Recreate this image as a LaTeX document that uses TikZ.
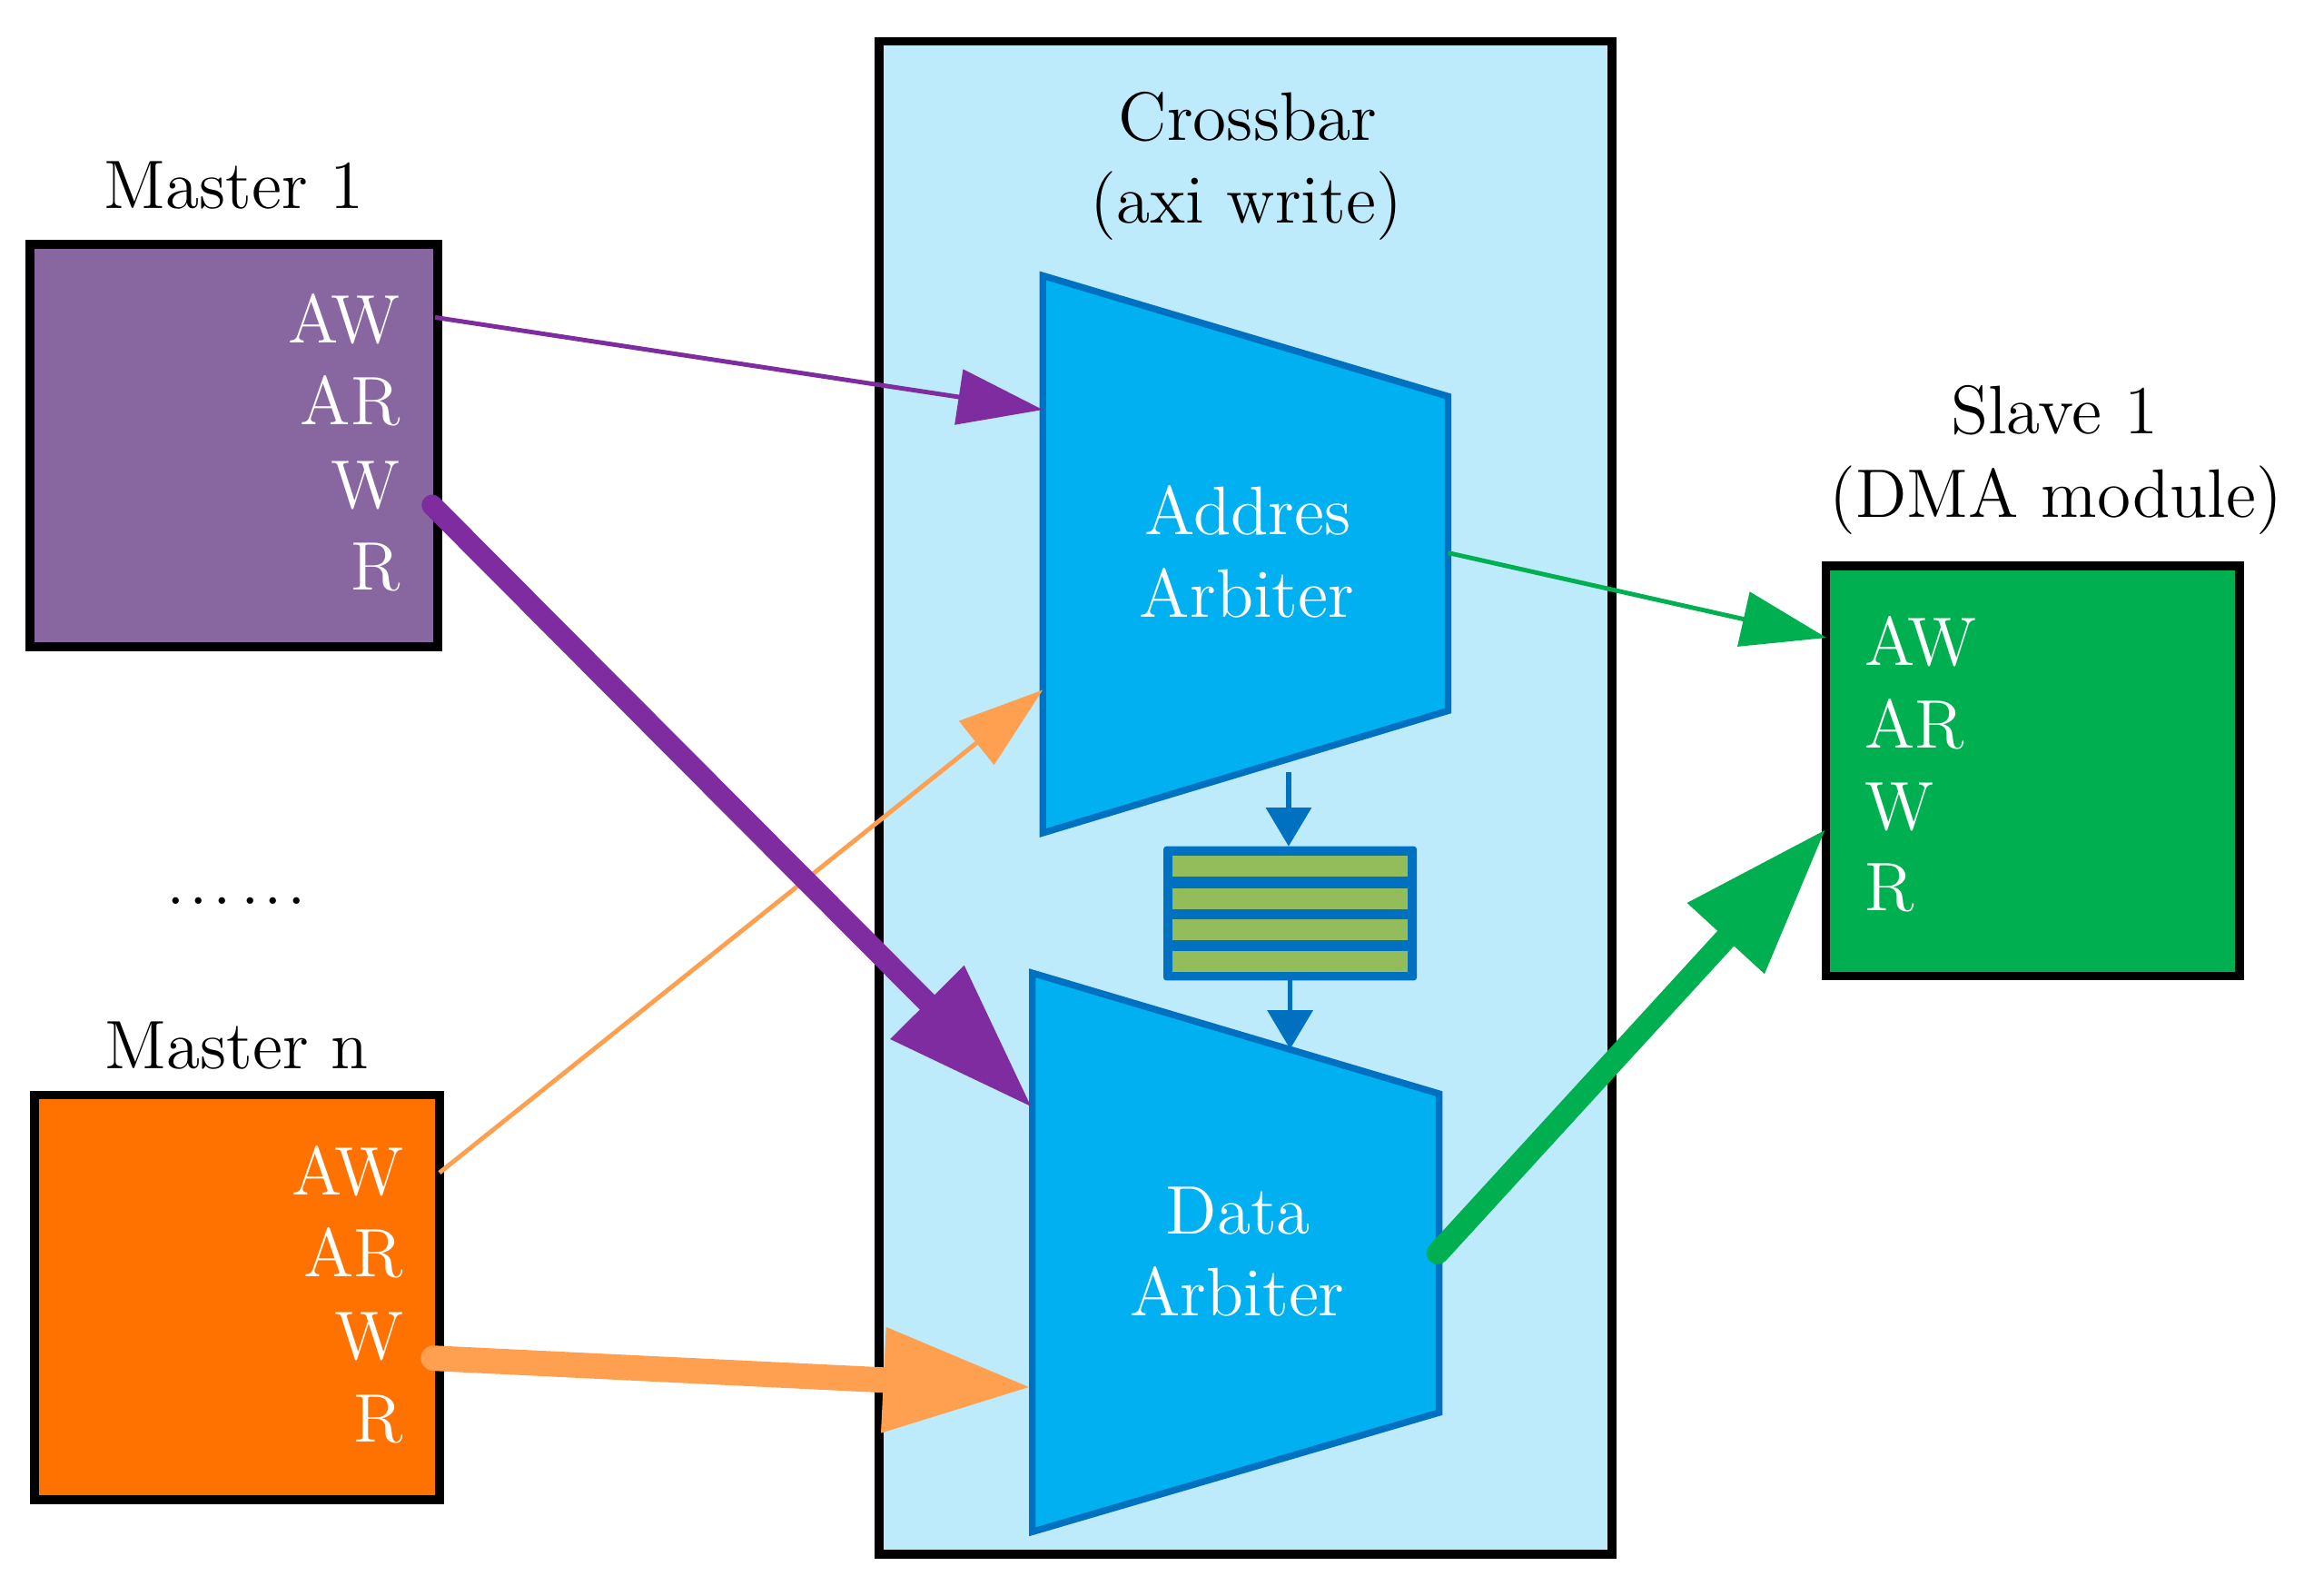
\documentclass[tikz,border=0pt]{standalone}
\usetikzlibrary{arrows.meta}
\definecolor{mpurple}{HTML}{8866A0}
\definecolor{apurple}{HTML}{7F2CA0}
\definecolor{morange}{HTML}{FF7200}
\definecolor{aorange}{HTML}{FF9F50}
\definecolor{mgreen}{HTML}{00B050}
\definecolor{xbarfill}{HTML}{BEEBFC}
\definecolor{arbfill}{HTML}{00B0F0}
\definecolor{arbline}{HTML}{0070C0}
\definecolor{fifogreen}{HTML}{93BC5B}
\tikzset{
  blackbox/.style={draw=black, line width=0.06cm, rectangle, inner sep=0pt},
  lbl/.style={inner sep=0pt, anchor=base, text=black},
  wlbl/.style={inner sep=0pt, text=white},
  thinarrow/.style={line width=0.03cm, -{Triangle[length=0.57cm, width=0.37cm]}},
  thickarrow/.style={line cap=round, -{Triangle[length=1.0cm, width=0.66cm]}},
  bluearrow/.style={draw=arbline, line width=0.035cm, -{Triangle[length=0.26cm, width=0.30cm]}},
  arbiter/.style={fill=arbfill, draw=arbline, line width=0.045cm, line join=miter}
}
\begin{document}
\begin{tikzpicture}[x=0.01cm, y=-0.01cm, font=\fontsize{13.1pt}{15.8pt}\selectfont]
\useasboundingbox (0,0) rectangle (1560,1070.5);

% crossbar container
\node[blackbox, fill=xbarfill, minimum width=4.92cm, minimum height=10.15cm] (xbar) at (836,535.5) {};
\node[lbl] (xbart1) at (837.6,94.5) {Crossbar};
\node[lbl] (xbart2) at (836.6,149.7) {(axi write)};

% masters and slave
\node[blackbox, fill=mpurple, minimum width=2.735cm, minimum height=2.70cm] (m1) at (156.75,299) {};
\node[lbl] (m1t) at (157,140) {Master 1};
\node[blackbox, fill=morange, minimum width=2.715cm, minimum height=2.715cm] (mn) at (159.25,870.75) {};
\node[lbl] (mnt) at (159,717) {Master n};
\node[lbl] (dots) at (158.5,606.6) {.\kern0.87pt.\kern0.87pt.\kern1.75pt.\kern0.87pt.\kern0.87pt.};
\node[blackbox, fill=mgreen, minimum width=2.773cm, minimum height=2.75cm] (sl) at (1364.35,517.5) {};
\node[lbl] (slt1) at (1379,291) {Slave 1};
\node[lbl] (slt2) at (1380,347) {(DMA module)};

% port labels
\node[wlbl, anchor=base east] (m1p1) at (269.5,230) {AW};
\node[wlbl, anchor=base east] (m1p2) at (269.5,285) {AR};
\node[wlbl, anchor=base east] (m1p3) at (269.5,341) {W};
\node[wlbl, anchor=base east] (m1p4) at (269.5,396) {R};
\node[wlbl, anchor=base east] (mnp1) at (271.6,802) {AW};
\node[wlbl, anchor=base east] (mnp2) at (271.6,857) {AR};
\node[wlbl, anchor=base east] (mnp3) at (271.6,912.5) {W};
\node[wlbl, anchor=base east] (mnp4) at (271.6,967.5) {R};
\node[wlbl, anchor=base west] (slp1) at (1251,446.6) {AW};
\node[wlbl, anchor=base west] (slp2) at (1251,502) {AR};
\node[wlbl, anchor=base west] (slp3) at (1251,557) {W};
\node[wlbl, anchor=base west] (slp4) at (1251,611.4) {R};

% address arbiter
\coordinate (aa1) at (700,185);
\coordinate (aa2) at (972,266);
\coordinate (aa3) at (972,477);
\coordinate (aa4) at (700,559);
\draw[arbiter] (aa1) -- (aa2) -- (aa3) -- (aa4) -- cycle;
\node[wlbl, anchor=base] (aat1) at (837.6,358.6) {Addres};
\node[wlbl, anchor=base] (aat2) at (837,414) {Arbiter};

% data arbiter
\coordinate (da1) at (693,653);
\coordinate (da2) at (966,734);
\coordinate (da3) at (966,948);
\coordinate (da4) at (693,1028);
\draw[arbiter] (da1) -- (da2) -- (da3) -- (da4) -- cycle;
\node[wlbl, anchor=base] (dat1) at (831,828) {Data};
\node[wlbl, anchor=base] (dat2) at (830.6,883) {Arbiter};

% fifo
\node[rectangle, fill=arbline, rounded corners=0.02cm, minimum width=1.70cm, minimum height=0.90cm, inner sep=0pt] (fifo) at (866,613) {};
\foreach \ya/\yb in {574/588, 596/610, 617/631, 638/652}
  \fill[fifogreen] (787,\ya) rectangle (945,\yb);

% internal blue arrows
\coordinate (aabot) at (865,518);
\coordinate (fifotop) at (865,568);
\coordinate (fifobot) at (866,658);
\coordinate (datop) at (866,704);
\draw[bluearrow] (aabot) -- (fifotop);
\draw[bluearrow] (fifobot) -- (datop);

% ports for connectors
\coordinate (m1aw) at (292,213);
\coordinate (m1w) at (290,339);
\coordinate (mnaw) at (295,787);
\coordinate (mnw) at (291,911.5);
\coordinate (aain1) at (700,275);
\coordinate (aain2) at (700,463);
\coordinate (dain1) at (693,743.5);
\coordinate (dain2) at (693,931);
\coordinate (aaout) at (972,371);
\coordinate (daout) at (965,841);
\coordinate (slaw) at (1226,428);
\coordinate (slw) at (1226,556);

% connectors
\draw[thinarrow, draw=apurple, fill=apurple] (m1aw) -- (aain1);
\draw[thinarrow, draw=aorange, fill=aorange] (mnaw) -- (aain2);
\draw[thinarrow, draw=mgreen, fill=mgreen] (aaout) -- (slaw);
\draw[thickarrow, draw=apurple, fill=apurple, line width=0.14cm] (m1w) -- (dain1);
\draw[thickarrow, draw=aorange, fill=aorange, line width=0.17cm] (mnw) -- (dain2);
\draw[thickarrow, draw=mgreen, fill=mgreen, line width=0.15cm] (daout) -- (slw);
\end{tikzpicture}
\end{document}
